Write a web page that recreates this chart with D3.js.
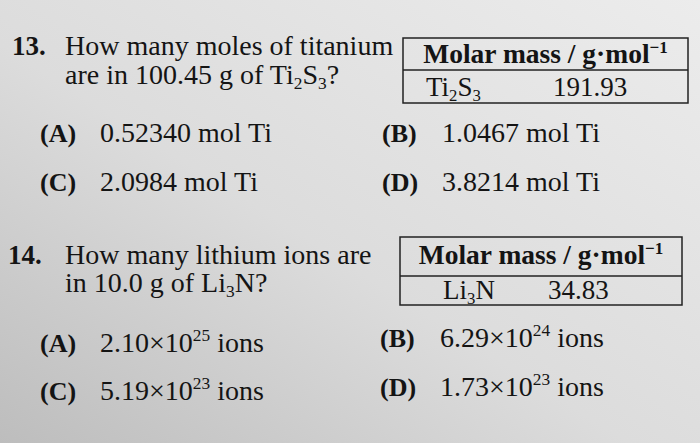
<!DOCTYPE html>
<html><head><meta charset="utf-8">
<script src="https://cdn.jsdelivr.net/npm/d3@7"></script>
<style>body{margin:0;overflow:hidden}</style>
</head><body><div class="container"></div>
<script>
const width = 700, height = 443;

// question content: each text part is [text, mode] with mode '' normal, 'sub', 'sup'
const questionNumbers = ['13.', '14.'];
const questionLines = [
  [[['How many moles of titanium', '']], [['are in 100.45 g of Ti', ''], ['2', 'sub'], ['S', ''], ['3', 'sub'], ['?', '']]],
  [[['How many lithium ions are', '']], [['in 10.0 g of Li', ''], ['3', 'sub'], ['N?', '']]]
];
const formulas = [[['Ti', ''], ['2', 'sub'], ['S', ''], ['3', 'sub']], [['Li', ''], ['3', 'sub'], ['N', '']]];
const molarMasses = ['191.93', '34.83'];
const optionLetters = ['(A)', '(B)', '(C)', '(D)'];
const options13 = [
  [['0.52340 mol Ti', '']], [['1.0467 mol Ti', '']],
  [['2.0984 mol Ti', '']], [['3.8214 mol Ti', '']]
];
const options14 = [
  [['2.10×10', ''], ['25', 'sup'], [' ions', '']],
  [['6.29×10', ''], ['24', 'sup'], [' ions', '']],
  [['5.19×10', ''], ['23', 'sup'], [' ions', '']],
  [['1.73×10', ''], ['23', 'sup'], [' ions', '']]
];

// layout per question
const layout = [
  { numX: 12, y: 55, lineGap: 29, table: { x: 403, y: 38, w: 285, h: 65, mid: 70, hy: 63, ry: 96, fx: 426, mx: 553 },
    opt: [[40, 142], [382, 142], [40, 191], [382, 191]] },
  { numX: 8, y: 264, lineGap: 28, table: { x: 400, y: 237, w: 282, h: 68, mid: 276, hy: 264, ry: 299, fx: 443, mx: 548 },
    opt: [[40, 352], [380, 347], [40, 400], [380, 396]] }
];

const svg = d3.select('.container').append('svg')
  .attr('width', width).attr('height', height);

const grad = svg.append('defs').append('linearGradient')
  .attr('id', 'bg').attr('x1', '100%').attr('y1', '0%').attr('x2', '0%').attr('y2', '100%');
grad.append('stop').attr('offset', '0%').attr('stop-color', '#ececec');
grad.append('stop').attr('offset', '55%').attr('stop-color', '#dcdcdc');
grad.append('stop').attr('offset', '100%').attr('stop-color', '#bdbdbd');
svg.append('rect').attr('width', width).attr('height', height).attr('fill', 'url(#bg)');

const FONT = 'Liberation Serif, Times New Roman, serif';
const INK = '#141414';

function rich(g, x, y, parts, size, bold) {
  const t = g.append('text').attr('x', x).attr('y', y)
    .attr('font-family', FONT).attr('font-size', size).attr('fill', INK)
    .attr('font-weight', bold ? 'bold' : 'normal');
  let prev = '';
  parts.forEach(([s, m]) => {
    const ts = t.append('tspan').text(s);
    const off = m === 'sub' ? size * 0.18 : m === 'sup' ? -size * 0.38 : 0;
    const prevOff = prev === 'sub' ? size * 0.18 : prev === 'sup' ? -size * 0.38 : 0;
    const dy = off - prevOff;
    if (dy) ts.attr('dy', dy);
    if (m) ts.attr('font-size', size * 0.62);
    prev = m;
  });
  return t;
}

layout.forEach((L, qi) => {
  const g = svg.append('g');
  rich(g, L.numX, L.y, [[questionNumbers[qi], '']], 27, true);
  questionLines[qi].forEach((parts, li) => rich(g, 65, L.y + li * L.lineGap, parts, 28, false));

  const T = L.table;
  g.append('rect').attr('x', T.x).attr('y', T.y).attr('width', T.w).attr('height', T.h)
    .attr('fill', 'none').attr('stroke', '#222').attr('stroke-width', 1.5);
  g.append('line').attr('x1', T.x).attr('x2', T.x + T.w).attr('y1', T.mid).attr('y2', T.mid)
    .attr('stroke', '#222').attr('stroke-width', 1.5);
  rich(g, T.x + T.w / 2, T.hy, [['Molar mass / g·mol', ''], ['−1', 'sup']], 27.5, true)
    .attr('text-anchor', 'middle');
  rich(g, T.fx, T.ry, formulas[qi], 27, false);
  rich(g, T.mx, T.ry, [[molarMasses[qi], '']], 27, false);

  const opts = qi === 0 ? options13 : options14;
  optionLetters.forEach((lt, oi) => {
    const [ox, oy] = L.opt[oi];
    rich(g, ox, oy, [[lt, '']], 26, true);
    rich(g, ox + 60, oy, opts[oi], 28, false);
  });
});
</script></body></html>
